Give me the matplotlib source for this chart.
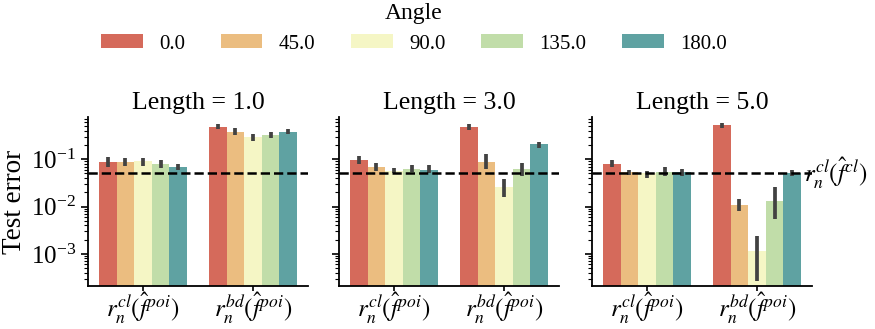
import numpy as np
import matplotlib
matplotlib.use("Agg")
import matplotlib.pyplot as plt
from matplotlib.patches import Patch

plt.rcParams["font.family"] = ["Liberation Serif", "DejaVu Serif"]
plt.rcParams["mathtext.fontset"] = "stix"

# data
angles = ["0.0", "45.0", "90.0", "135.0", "180.0"]
lengths = ["1.0", "3.0", "5.0"]
metrics = [r"$r_n^{cl}(\hat{f}^{poi})$", r"$r_n^{bd}(\hat{f}^{poi})$"]
colors = ["#d56a5b", "#ebbd80", "#f5f6c5", "#c1dda9", "#5fa2a2"]

# mean test error, rows = metric (cl, bd), cols = angle
len1_mean = [[0.088, 0.088, 0.092, 0.079, 0.068],
             [0.48, 0.385, 0.29, 0.33, 0.385]]
len1_lo = [[0.070, 0.072, 0.073, 0.066, 0.059],
           [0.439, 0.32, 0.239, 0.277, 0.337]]
len1_hi = [[0.110, 0.108, 0.108, 0.097, 0.079],
           [0.553, 0.446, 0.348, 0.385, 0.425]]

len3_mean = [[0.097, 0.068, 0.057, 0.062, 0.059],
             [0.47, 0.088, 0.0255, 0.062, 0.206]]
len3_lo = [[0.078, 0.057, 0.050, 0.053, 0.052],
           [0.418, 0.062, 0.0158, 0.045, 0.172]]
len3_hi = [[0.116, 0.082, 0.066, 0.077, 0.074],
           [0.553, 0.128, 0.039, 0.082, 0.231]]

len5_mean = [[0.079, 0.054, 0.052, 0.053, 0.054],
             [0.53, 0.0109, 0.00114, 0.0134, 0.052]]
len5_lo = [[0.067, 0.046, 0.040, 0.045, 0.044],
           [0.461, 0.0082, 0.00027, 0.0054, 0.0446]]
len5_hi = [[0.097, 0.059, 0.057, 0.067, 0.063],
           [0.59, 0.0146, 0.00239, 0.0259, 0.059]]

clean_error = 0.05  # r_n^cl(f^cl)

means = [len1_mean, len3_mean, len5_mean]
lows = [len1_lo, len3_lo, len5_lo]
highs = [len1_hi, len3_hi, len5_hi]

fig = plt.figure(figsize=(8.75, 3.29), dpi=100)
lefts = [88 / 875, 339 / 875, 592 / 875]
axes = []
width = 0.8 / len(angles)
for k, length in enumerate(lengths):
    ax = fig.add_axes([lefts[k], 0.1307, 220 / 875, 0.5137],
                      sharey=axes[0] if axes else None)
    axes.append(ax)
    m = np.array(means[k])
    lo = np.array(lows[k])
    hi = np.array(highs[k])
    for j in range(len(angles)):
        x = np.arange(len(metrics)) - 0.4 + width * (j + 0.5)
        ax.bar(x, m[:, j], width=width, color=colors[j], linewidth=0)
        ax.vlines(x, lo[:, j], hi[:, j], color="#424242", lw=2.7, zorder=3)
    ax.axhline(clean_error, color="black", ls="--", lw=1.8, zorder=4)
    ax.set_yscale("log")
    ax.set_ylim(2.1e-4, 0.78)
    ax.set_xlim(-0.5, 1.5)
    ax.set_xticks(range(len(metrics)))
    ax.set_xticklabels(metrics, fontsize=18)
    ax.set_title(f"Length = {length}", fontsize=18.5, pad=6)
    ax.spines["top"].set_visible(False)
    ax.spines["right"].set_visible(False)
    ax.spines["left"].set_linewidth(1.3)
    ax.spines["bottom"].set_linewidth(1.3)
    ax.tick_params(axis="y", which="major", length=5, width=1.2, labelsize=18)
    ax.tick_params(axis="x", which="major", length=3.5, width=1.2, pad=0)
    ax.tick_params(axis="y", which="minor", length=3, width=0.8)
    if k == 0:
        ax.set_ylabel("Test error", fontsize=19.5, labelpad=3)
    else:
        ax.tick_params(axis="y", which="both", labelleft=False)

axes[-1].text(0.965, clean_error, r"$r_n^{cl}(\hat{f}^{cl})$", fontsize=18,
              transform=axes[-1].get_yaxis_transform(), ha="left", va="center")

handles = [Patch(facecolor=c, edgecolor="none") for c in colors]
fig.legend(handles, angles, title="Angle", ncol=5, frameon=False,
           loc="upper center", bbox_to_anchor=(0.473, 1.035),
           fontsize=15, title_fontsize=17, handlelength=2.0, handleheight=0.62,
           columnspacing=1.7, borderpad=0.2)

fig.savefig("out.png", dpi=100)
